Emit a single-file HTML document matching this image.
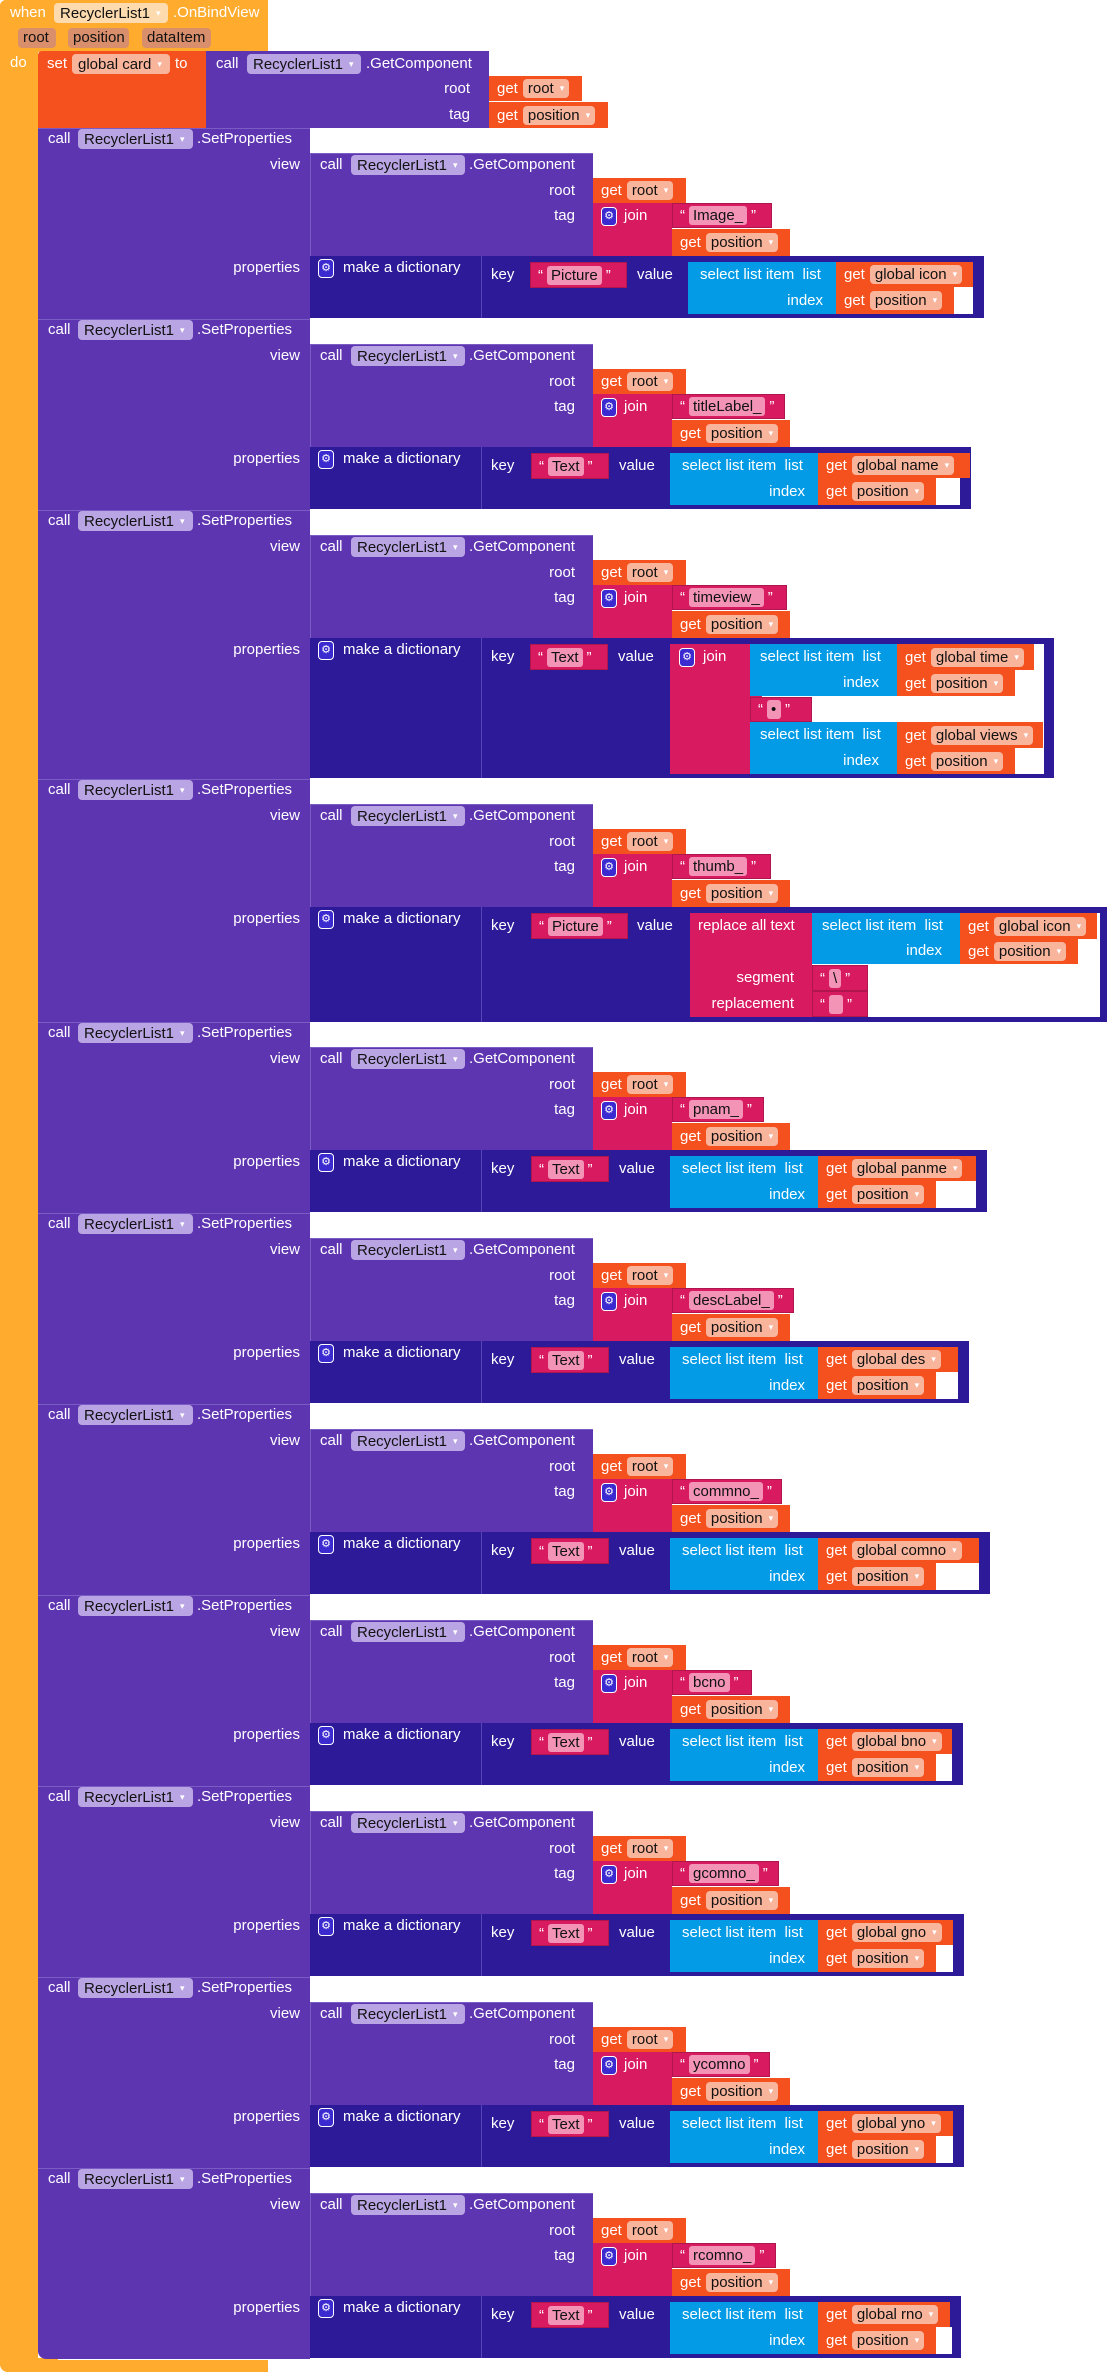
<!DOCTYPE html>
<html><head><meta charset="utf-8">
<style>
*{margin:0;padding:0;box-sizing:border-box}
body{width:1109px;height:2372px;background:#fff;position:relative;overflow:hidden;font-family:"Liberation Sans",Arial,sans-serif;font-size:15px}
.b{position:absolute}
.s{position:absolute;left:0;width:1109px;height:10px}
.l{position:absolute;color:#fff;font-size:15px;line-height:18px;white-space:nowrap}
.r{text-align:right}
.dd{position:absolute;height:20px;line-height:20px;background:#B9A5E3;color:#111;border-radius:4px;padding-left:6px;white-space:nowrap}
.dd b,.g b{font-size:9px;color:#fff;font-weight:normal;margin-left:6px;vertical-align:2px}
.g{position:absolute;background:#F4511E;height:25px;display:flex;align-items:center;padding-left:8px;gap:5px;color:#fff;white-space:nowrap}
.g i{font-style:normal;background:#F9B49C;color:#111;padding:0 5px;height:19px;line-height:19px;border-radius:4px}
.tx{position:absolute;background:#D81B60;height:25px;display:flex;align-items:center;padding-left:7px;gap:4px;color:#fff;white-space:nowrap;border:1px solid #B0154E}
.tx i{font-style:normal;background:#F393B6;color:#111;padding:0 4px;height:19px;line-height:19px;border-radius:3px;min-width:14px}
.gear{position:absolute;width:16px;height:19px;border:1.5px solid #fff;border-radius:4px;background:#3B2AD0;color:#fff;font-size:11px;line-height:16px;text-align:center}
.p{background:#5E35B1}
.d{background:#2C1A98}
.bl{background:#039BE5}
.pk{background:#D81B60}
.w{background:#fff}
</style></head><body>

<!-- event block -->
<div class="b" style="left:0;top:0;width:268px;height:52px;background:#FFAB2E;border-radius:6px 0 0 0"></div>
<div class="b" style="left:0;top:0;width:38px;height:2372px;background:#FFAB2E;border-radius:6px 0 0 8px"></div>
<div class="b" style="left:0;top:2360px;width:268px;height:12px;background:#FFAB2E;border-radius:0 0 0 8px"></div>
<div class="b" style="left:38px;top:2358px;width:20px;height:6px;background:#FFAB2E"></div>
<div class="l" style="left:10px;top:4px">when</div>
<div class="dd" style="left:54px;top:3px;width:114px;background:#FDDBAE">RecyclerList1<b>▾</b></div>
<div class="l" style="left:173px;top:4px">.OnBindView</div>
<div class="dd" style="left:18px;top:28px;width:38px;background:#D98F6C;padding-left:5px">root</div>
<div class="dd" style="left:68px;top:28px;width:61px;background:#D98F6C;padding-left:5px">position</div>
<div class="dd" style="left:142px;top:28px;width:69px;background:#D98F6C;padding-left:5px">dataItem</div>
<div class="l" style="left:10px;top:54px">do</div>

<!-- set global card -->
<div class="b" style="left:38px;top:51px;width:168px;height:77px;background:#F4511E;border-radius:4px 0 0 0"></div>
<div class="l" style="left:47px;top:55px">set</div>
<div class="dd" style="left:72px;top:54px;width:98px;background:#F9B49C">global card<b>▾</b></div>
<div class="l" style="left:175px;top:55px">to</div>
<div class="b p" style="left:206px;top:51px;width:283px;height:77px"></div>
<div class="l" style="left:216px;top:55px">call</div>
<div class="dd" style="left:247px;top:54px;width:114px">RecyclerList1<b>▾</b></div>
<div class="l" style="left:366px;top:55px">.GetComponent</div>
<div class="l r" style="left:270px;width:200px;top:80px">root</div>
<div class="g" style="left:489px;top:76px;width:93px">get<i>root<b>▾</b></i></div>
<div class="l r" style="left:270px;width:200px;top:106px">tag</div>
<div class="g" style="left:489px;top:102px;width:119px;height:26px">get<i>position<b>▾</b></i></div>

<!-- SECTION 1 -->
<div class="s" style="top:128px">
<div class="b p" style="left:38px;top:0;width:272px;height:191px;border-top:1px solid #7A5CC4"></div>
<div class="l" style="left:48px;top:2px">call</div><div class="dd" style="left:78px;top:1px;width:115px">RecyclerList1<b>▾</b></div><div class="l" style="left:197px;top:2px">.SetProperties</div>
<div class="l r" style="left:100px;width:200px;top:28px">view</div>
<div class="b p" style="left:310px;top:25px;width:283px;height:103px;border-left:1px solid #7A5CC4;border-top:1px solid #7A5CC4"></div>
<div class="l" style="left:320px;top:28px">call</div><div class="dd" style="left:351px;top:27px;width:114px">RecyclerList1<b>▾</b></div><div class="l" style="left:469px;top:28px">.GetComponent</div>
<div class="l r" style="left:375px;width:200px;top:54px">root</div><div class="g" style="left:593px;top:50px;width:93px">get<i>root<b>▾</b></i></div>
<div class="l r" style="left:375px;width:200px;top:79px">tag</div>
<div class="b pk" style="left:593px;top:75px;width:79px;height:53px"></div><div class="gear" style="left:601px;top:79px">⚙</div><div class="l" style="left:624px;top:79px">join</div>
<div class="tx" style="left:672px;top:75px;width:100px">“<i>Image_</i>”</div>
<div class="g" style="left:672px;top:101px;width:118px;height:27px">get<i>position<b>▾</b></i></div>
<div class="l r" style="left:100px;width:200px;top:131px">properties</div>
<div class="b d" style="left:310px;top:128px;width:674px;height:62px"></div><div class="b" style="left:481px;top:128px;width:1px;height:62px;background:#5546B5"></div>
<div class="gear" style="left:318px;top:131px">⚙</div><div class="l" style="left:343px;top:131px">make a dictionary</div>
<div class="l" style="left:491px;top:138px">key</div>
<div class="tx" style="left:530px;top:134px;width:97px;height:26px">“<i>Picture</i>”</div>
<div class="l" style="left:637px;top:138px">value</div>
<div class="b bl" style="left:688px;top:134px;width:148px;height:52px"></div><div class="l" style="left:700px;top:138px">select list item&nbsp; list</div><div class="l r" style="left:623px;width:200px;top:164px">index</div>
<div class="g" style="left:836px;top:134px;width:137px">get<i>global icon<b>▾</b></i></div>
<div class="b w" style="left:954px;top:159px;width:19px;height:27px"></div>
<div class="g" style="left:836px;top:159px;width:118px;height:27px">get<i>position<b>▾</b></i></div>
</div>

<!-- SECTION 2 -->
<div class="s" style="top:319px">
<div class="b p" style="left:38px;top:0;width:272px;height:191px;border-top:1px solid #7A5CC4"></div>
<div class="l" style="left:48px;top:2px">call</div><div class="dd" style="left:78px;top:1px;width:115px">RecyclerList1<b>▾</b></div><div class="l" style="left:197px;top:2px">.SetProperties</div>
<div class="l r" style="left:100px;width:200px;top:28px">view</div>
<div class="b p" style="left:310px;top:25px;width:283px;height:103px;border-left:1px solid #7A5CC4;border-top:1px solid #7A5CC4"></div>
<div class="l" style="left:320px;top:28px">call</div><div class="dd" style="left:351px;top:27px;width:114px">RecyclerList1<b>▾</b></div><div class="l" style="left:469px;top:28px">.GetComponent</div>
<div class="l r" style="left:375px;width:200px;top:54px">root</div><div class="g" style="left:593px;top:50px;width:93px">get<i>root<b>▾</b></i></div>
<div class="l r" style="left:375px;width:200px;top:79px">tag</div>
<div class="b pk" style="left:593px;top:75px;width:79px;height:53px"></div><div class="gear" style="left:601px;top:79px">⚙</div><div class="l" style="left:624px;top:79px">join</div>
<div class="tx" style="left:672px;top:75px;width:113px">“<i>titleLabel_</i>”</div>
<div class="g" style="left:672px;top:101px;width:118px;height:27px">get<i>position<b>▾</b></i></div>
<div class="l r" style="left:100px;width:200px;top:131px">properties</div>
<div class="b d" style="left:310px;top:128px;width:661px;height:62px"></div><div class="b" style="left:481px;top:128px;width:1px;height:62px;background:#5546B5"></div>
<div class="gear" style="left:318px;top:131px">⚙</div><div class="l" style="left:343px;top:131px">make a dictionary</div>
<div class="l" style="left:491px;top:138px">key</div>
<div class="tx" style="left:531px;top:134px;width:78px;height:26px">“<i>Text</i>”</div>
<div class="l" style="left:619px;top:138px">value</div>
<div class="b bl" style="left:670px;top:134px;width:148px;height:52px"></div><div class="l" style="left:682px;top:138px">select list item&nbsp; list</div><div class="l r" style="left:605px;width:200px;top:164px">index</div>
<div class="g" style="left:818px;top:134px;width:152px">get<i>global name<b>▾</b></i></div>
<div class="b w" style="left:936px;top:159px;width:24px;height:27px"></div>
<div class="g" style="left:818px;top:159px;width:118px;height:27px">get<i>position<b>▾</b></i></div>
</div>

<!-- SECTION 3 -->
<div class="s" style="top:510px">
<div class="b p" style="left:38px;top:0;width:272px;height:269px;border-top:1px solid #7A5CC4"></div>
<div class="l" style="left:48px;top:2px">call</div><div class="dd" style="left:78px;top:1px;width:115px">RecyclerList1<b>▾</b></div><div class="l" style="left:197px;top:2px">.SetProperties</div>
<div class="l r" style="left:100px;width:200px;top:28px">view</div>
<div class="b p" style="left:310px;top:25px;width:283px;height:103px;border-left:1px solid #7A5CC4;border-top:1px solid #7A5CC4"></div>
<div class="l" style="left:320px;top:28px">call</div><div class="dd" style="left:351px;top:27px;width:114px">RecyclerList1<b>▾</b></div><div class="l" style="left:469px;top:28px">.GetComponent</div>
<div class="l r" style="left:375px;width:200px;top:54px">root</div><div class="g" style="left:593px;top:50px;width:93px">get<i>root<b>▾</b></i></div>
<div class="l r" style="left:375px;width:200px;top:79px">tag</div>
<div class="b pk" style="left:593px;top:75px;width:79px;height:53px"></div><div class="gear" style="left:601px;top:79px">⚙</div><div class="l" style="left:624px;top:79px">join</div>
<div class="tx" style="left:672px;top:75px;width:115px">“<i>timeview_</i>”</div>
<div class="g" style="left:672px;top:101px;width:118px;height:27px">get<i>position<b>▾</b></i></div>
<div class="l r" style="left:100px;width:200px;top:131px">properties</div>
<div class="b d" style="left:310px;top:128px;width:744px;height:140px"></div><div class="b" style="left:481px;top:128px;width:1px;height:140px;background:#5546B5"></div>
<div class="gear" style="left:318px;top:131px">⚙</div><div class="l" style="left:343px;top:131px">make a dictionary</div>
<div class="l" style="left:491px;top:138px">key</div>
<div class="tx" style="left:530px;top:134px;width:78px;height:26px">“<i>Text</i>”</div>
<div class="l" style="left:618px;top:138px">value</div>
<div class="b w" style="left:750px;top:134px;width:294px;height:130px"></div>
<div class="b pk" style="left:670px;top:134px;width:80px;height:130px"></div><div class="gear" style="left:679px;top:138px">⚙</div><div class="l" style="left:703px;top:138px">join</div>
<div class="b pk" style="left:750px;top:186px;width:12px;height:26px"></div>
<div class="b bl" style="left:750px;top:134px;width:147px;height:52px"></div><div class="l" style="left:760px;top:138px">select list item&nbsp; list</div><div class="l r" style="left:679px;width:200px;top:164px">index</div>
<div class="g" style="left:897px;top:134px;width:137px;height:26px">get<i>global time<b>▾</b></i></div>
<div class="g" style="left:897px;top:160px;width:118px;height:26px">get<i>position<b>▾</b></i></div>
<div class="tx" style="left:750px;top:187px;width:62px;height:25px">“<i>•</i>”</div>
<div class="b bl" style="left:750px;top:212px;width:147px;height:52px"></div><div class="l" style="left:760px;top:216px">select list item&nbsp; list</div><div class="l r" style="left:679px;width:200px;top:242px">index</div>
<div class="g" style="left:897px;top:212px;width:146px;height:26px">get<i>global views<b>▾</b></i></div>
<div class="g" style="left:897px;top:238px;width:118px;height:26px">get<i>position<b>▾</b></i></div>
</div>

<!-- SECTION 4 -->
<div class="s" style="top:779px">
<div class="b p" style="left:38px;top:0;width:272px;height:243px;border-top:1px solid #7A5CC4"></div>
<div class="l" style="left:48px;top:2px">call</div><div class="dd" style="left:78px;top:1px;width:115px">RecyclerList1<b>▾</b></div><div class="l" style="left:197px;top:2px">.SetProperties</div>
<div class="l r" style="left:100px;width:200px;top:28px">view</div>
<div class="b p" style="left:310px;top:25px;width:283px;height:103px;border-left:1px solid #7A5CC4;border-top:1px solid #7A5CC4"></div>
<div class="l" style="left:320px;top:28px">call</div><div class="dd" style="left:351px;top:27px;width:114px">RecyclerList1<b>▾</b></div><div class="l" style="left:469px;top:28px">.GetComponent</div>
<div class="l r" style="left:375px;width:200px;top:54px">root</div><div class="g" style="left:593px;top:50px;width:93px">get<i>root<b>▾</b></i></div>
<div class="l r" style="left:375px;width:200px;top:79px">tag</div>
<div class="b pk" style="left:593px;top:75px;width:79px;height:53px"></div><div class="gear" style="left:601px;top:79px">⚙</div><div class="l" style="left:624px;top:79px">join</div>
<div class="tx" style="left:672px;top:75px;width:99px">“<i>thumb_</i>”</div>
<div class="g" style="left:672px;top:101px;width:118px;height:27px">get<i>position<b>▾</b></i></div>
<div class="l r" style="left:100px;width:200px;top:131px">properties</div>
<div class="b d" style="left:310px;top:128px;width:797px;height:115px"></div><div class="b" style="left:481px;top:128px;width:1px;height:115px;background:#5546B5"></div>
<div class="gear" style="left:318px;top:131px">⚙</div><div class="l" style="left:343px;top:131px">make a dictionary</div>
<div class="l" style="left:491px;top:138px">key</div>
<div class="tx" style="left:531px;top:134px;width:97px;height:26px">“<i>Picture</i>”</div>
<div class="l" style="left:637px;top:138px">value</div>
<div class="b w" style="left:812px;top:134px;width:288px;height:104px"></div>
<div class="b pk" style="left:690px;top:134px;width:122px;height:104px"></div>
<div class="l" style="left:698px;top:138px">replace all text</div>
<div class="l r" style="left:594px;width:200px;top:190px">segment</div>
<div class="l r" style="left:594px;width:200px;top:216px">replacement</div>
<div class="b bl" style="left:812px;top:134px;width:148px;height:51px"></div><div class="l" style="left:822px;top:138px">select list item&nbsp; list</div><div class="l r" style="left:742px;width:200px;top:163px">index</div>
<div class="g" style="left:960px;top:134px;width:137px;height:26px">get<i>global icon<b>▾</b></i></div>
<div class="g" style="left:960px;top:160px;width:118px;height:25px">get<i>position<b>▾</b></i></div>
<div class="tx" style="left:812px;top:186px;width:56px;height:26px">“<i style="min-width:10px">\</i>”</div>
<div class="tx" style="left:812px;top:212px;width:56px;height:26px">“<i></i>”</div>
</div>

<!-- STANDARD TEXT SECTIONS 5-11 -->
<div class="s" style="top:1022px">
<div class="b p" style="left:38px;top:0;width:272px;height:191px;border-top:1px solid #7A5CC4"></div>
<div class="l" style="left:48px;top:2px">call</div><div class="dd" style="left:78px;top:1px;width:115px">RecyclerList1<b>▾</b></div><div class="l" style="left:197px;top:2px">.SetProperties</div>
<div class="l r" style="left:100px;width:200px;top:28px">view</div>
<div class="b p" style="left:310px;top:25px;width:283px;height:103px;border-left:1px solid #7A5CC4;border-top:1px solid #7A5CC4"></div>
<div class="l" style="left:320px;top:28px">call</div><div class="dd" style="left:351px;top:27px;width:114px">RecyclerList1<b>▾</b></div><div class="l" style="left:469px;top:28px">.GetComponent</div>
<div class="l r" style="left:375px;width:200px;top:54px">root</div><div class="g" style="left:593px;top:50px;width:93px">get<i>root<b>▾</b></i></div>
<div class="l r" style="left:375px;width:200px;top:79px">tag</div>
<div class="b pk" style="left:593px;top:75px;width:79px;height:53px"></div><div class="gear" style="left:601px;top:79px">⚙</div><div class="l" style="left:624px;top:79px">join</div>
<div class="tx" style="left:672px;top:75px;width:92px">“<i>pnam_</i>”</div>
<div class="g" style="left:672px;top:101px;width:118px;height:27px">get<i>position<b>▾</b></i></div>
<div class="l r" style="left:100px;width:200px;top:131px">properties</div>
<div class="b d" style="left:310px;top:128px;width:677px;height:62px"></div><div class="b" style="left:481px;top:128px;width:1px;height:62px;background:#5546B5"></div>
<div class="gear" style="left:318px;top:131px">⚙</div><div class="l" style="left:343px;top:131px">make a dictionary</div>
<div class="l" style="left:491px;top:138px">key</div>
<div class="tx" style="left:531px;top:134px;width:78px;height:26px">“<i>Text</i>”</div>
<div class="l" style="left:619px;top:138px">value</div>
<div class="b bl" style="left:670px;top:134px;width:148px;height:52px"></div><div class="l" style="left:682px;top:138px">select list item&nbsp; list</div><div class="l r" style="left:605px;width:200px;top:164px">index</div>
<div class="g" style="left:818px;top:134px;width:158px">get<i>global panme<b>▾</b></i></div>
<div class="b w" style="left:936px;top:159px;width:40px;height:27px"></div>
<div class="g" style="left:818px;top:159px;width:118px;height:27px">get<i>position<b>▾</b></i></div>
</div>

<div class="s" style="top:1213px">
<div class="b p" style="left:38px;top:0;width:272px;height:191px;border-top:1px solid #7A5CC4"></div>
<div class="l" style="left:48px;top:2px">call</div><div class="dd" style="left:78px;top:1px;width:115px">RecyclerList1<b>▾</b></div><div class="l" style="left:197px;top:2px">.SetProperties</div>
<div class="l r" style="left:100px;width:200px;top:28px">view</div>
<div class="b p" style="left:310px;top:25px;width:283px;height:103px;border-left:1px solid #7A5CC4;border-top:1px solid #7A5CC4"></div>
<div class="l" style="left:320px;top:28px">call</div><div class="dd" style="left:351px;top:27px;width:114px">RecyclerList1<b>▾</b></div><div class="l" style="left:469px;top:28px">.GetComponent</div>
<div class="l r" style="left:375px;width:200px;top:54px">root</div><div class="g" style="left:593px;top:50px;width:93px">get<i>root<b>▾</b></i></div>
<div class="l r" style="left:375px;width:200px;top:79px">tag</div>
<div class="b pk" style="left:593px;top:75px;width:79px;height:53px"></div><div class="gear" style="left:601px;top:79px">⚙</div><div class="l" style="left:624px;top:79px">join</div>
<div class="tx" style="left:672px;top:75px;width:122px">“<i>descLabel_</i>”</div>
<div class="g" style="left:672px;top:101px;width:118px;height:27px">get<i>position<b>▾</b></i></div>
<div class="l r" style="left:100px;width:200px;top:131px">properties</div>
<div class="b d" style="left:310px;top:128px;width:659px;height:62px"></div><div class="b" style="left:481px;top:128px;width:1px;height:62px;background:#5546B5"></div>
<div class="gear" style="left:318px;top:131px">⚙</div><div class="l" style="left:343px;top:131px">make a dictionary</div>
<div class="l" style="left:491px;top:138px">key</div>
<div class="tx" style="left:531px;top:134px;width:78px;height:26px">“<i>Text</i>”</div>
<div class="l" style="left:619px;top:138px">value</div>
<div class="b bl" style="left:670px;top:134px;width:148px;height:52px"></div><div class="l" style="left:682px;top:138px">select list item&nbsp; list</div><div class="l r" style="left:605px;width:200px;top:164px">index</div>
<div class="g" style="left:818px;top:134px;width:140px">get<i>global des<b>▾</b></i></div>
<div class="b w" style="left:936px;top:159px;width:22px;height:27px"></div>
<div class="g" style="left:818px;top:159px;width:118px;height:27px">get<i>position<b>▾</b></i></div>
</div>

<div class="s" style="top:1404px">
<div class="b p" style="left:38px;top:0;width:272px;height:191px;border-top:1px solid #7A5CC4"></div>
<div class="l" style="left:48px;top:2px">call</div><div class="dd" style="left:78px;top:1px;width:115px">RecyclerList1<b>▾</b></div><div class="l" style="left:197px;top:2px">.SetProperties</div>
<div class="l r" style="left:100px;width:200px;top:28px">view</div>
<div class="b p" style="left:310px;top:25px;width:283px;height:103px;border-left:1px solid #7A5CC4;border-top:1px solid #7A5CC4"></div>
<div class="l" style="left:320px;top:28px">call</div><div class="dd" style="left:351px;top:27px;width:114px">RecyclerList1<b>▾</b></div><div class="l" style="left:469px;top:28px">.GetComponent</div>
<div class="l r" style="left:375px;width:200px;top:54px">root</div><div class="g" style="left:593px;top:50px;width:93px">get<i>root<b>▾</b></i></div>
<div class="l r" style="left:375px;width:200px;top:79px">tag</div>
<div class="b pk" style="left:593px;top:75px;width:79px;height:53px"></div><div class="gear" style="left:601px;top:79px">⚙</div><div class="l" style="left:624px;top:79px">join</div>
<div class="tx" style="left:672px;top:75px;width:110px">“<i>commno_</i>”</div>
<div class="g" style="left:672px;top:101px;width:118px;height:27px">get<i>position<b>▾</b></i></div>
<div class="l r" style="left:100px;width:200px;top:131px">properties</div>
<div class="b d" style="left:310px;top:128px;width:680px;height:62px"></div><div class="b" style="left:481px;top:128px;width:1px;height:62px;background:#5546B5"></div>
<div class="gear" style="left:318px;top:131px">⚙</div><div class="l" style="left:343px;top:131px">make a dictionary</div>
<div class="l" style="left:491px;top:138px">key</div>
<div class="tx" style="left:531px;top:134px;width:78px;height:26px">“<i>Text</i>”</div>
<div class="l" style="left:619px;top:138px">value</div>
<div class="b bl" style="left:670px;top:134px;width:148px;height:52px"></div><div class="l" style="left:682px;top:138px">select list item&nbsp; list</div><div class="l r" style="left:605px;width:200px;top:164px">index</div>
<div class="g" style="left:818px;top:134px;width:161px">get<i>global comno<b>▾</b></i></div>
<div class="b w" style="left:936px;top:159px;width:43px;height:27px"></div>
<div class="g" style="left:818px;top:159px;width:118px;height:27px">get<i>position<b>▾</b></i></div>
</div>

<div class="s" style="top:1595px">
<div class="b p" style="left:38px;top:0;width:272px;height:191px;border-top:1px solid #7A5CC4"></div>
<div class="l" style="left:48px;top:2px">call</div><div class="dd" style="left:78px;top:1px;width:115px">RecyclerList1<b>▾</b></div><div class="l" style="left:197px;top:2px">.SetProperties</div>
<div class="l r" style="left:100px;width:200px;top:28px">view</div>
<div class="b p" style="left:310px;top:25px;width:283px;height:103px;border-left:1px solid #7A5CC4;border-top:1px solid #7A5CC4"></div>
<div class="l" style="left:320px;top:28px">call</div><div class="dd" style="left:351px;top:27px;width:114px">RecyclerList1<b>▾</b></div><div class="l" style="left:469px;top:28px">.GetComponent</div>
<div class="l r" style="left:375px;width:200px;top:54px">root</div><div class="g" style="left:593px;top:50px;width:93px">get<i>root<b>▾</b></i></div>
<div class="l r" style="left:375px;width:200px;top:79px">tag</div>
<div class="b pk" style="left:593px;top:75px;width:79px;height:53px"></div><div class="gear" style="left:601px;top:79px">⚙</div><div class="l" style="left:624px;top:79px">join</div>
<div class="tx" style="left:672px;top:75px;width:80px">“<i>bcno</i>”</div>
<div class="g" style="left:672px;top:101px;width:118px;height:27px">get<i>position<b>▾</b></i></div>
<div class="l r" style="left:100px;width:200px;top:131px">properties</div>
<div class="b d" style="left:310px;top:128px;width:653px;height:62px"></div><div class="b" style="left:481px;top:128px;width:1px;height:62px;background:#5546B5"></div>
<div class="gear" style="left:318px;top:131px">⚙</div><div class="l" style="left:343px;top:131px">make a dictionary</div>
<div class="l" style="left:491px;top:138px">key</div>
<div class="tx" style="left:531px;top:134px;width:78px;height:26px">“<i>Text</i>”</div>
<div class="l" style="left:619px;top:138px">value</div>
<div class="b bl" style="left:670px;top:134px;width:148px;height:52px"></div><div class="l" style="left:682px;top:138px">select list item&nbsp; list</div><div class="l r" style="left:605px;width:200px;top:164px">index</div>
<div class="g" style="left:818px;top:134px;width:134px">get<i>global bno<b>▾</b></i></div>
<div class="b w" style="left:936px;top:159px;width:16px;height:27px"></div>
<div class="g" style="left:818px;top:159px;width:118px;height:27px">get<i>position<b>▾</b></i></div>
</div>

<div class="s" style="top:1786px">
<div class="b p" style="left:38px;top:0;width:272px;height:191px;border-top:1px solid #7A5CC4"></div>
<div class="l" style="left:48px;top:2px">call</div><div class="dd" style="left:78px;top:1px;width:115px">RecyclerList1<b>▾</b></div><div class="l" style="left:197px;top:2px">.SetProperties</div>
<div class="l r" style="left:100px;width:200px;top:28px">view</div>
<div class="b p" style="left:310px;top:25px;width:283px;height:103px;border-left:1px solid #7A5CC4;border-top:1px solid #7A5CC4"></div>
<div class="l" style="left:320px;top:28px">call</div><div class="dd" style="left:351px;top:27px;width:114px">RecyclerList1<b>▾</b></div><div class="l" style="left:469px;top:28px">.GetComponent</div>
<div class="l r" style="left:375px;width:200px;top:54px">root</div><div class="g" style="left:593px;top:50px;width:93px">get<i>root<b>▾</b></i></div>
<div class="l r" style="left:375px;width:200px;top:79px">tag</div>
<div class="b pk" style="left:593px;top:75px;width:79px;height:53px"></div><div class="gear" style="left:601px;top:79px">⚙</div><div class="l" style="left:624px;top:79px">join</div>
<div class="tx" style="left:672px;top:75px;width:107px">“<i>gcomno_</i>”</div>
<div class="g" style="left:672px;top:101px;width:118px;height:27px">get<i>position<b>▾</b></i></div>
<div class="l r" style="left:100px;width:200px;top:131px">properties</div>
<div class="b d" style="left:310px;top:128px;width:654px;height:62px"></div><div class="b" style="left:481px;top:128px;width:1px;height:62px;background:#5546B5"></div>
<div class="gear" style="left:318px;top:131px">⚙</div><div class="l" style="left:343px;top:131px">make a dictionary</div>
<div class="l" style="left:491px;top:138px">key</div>
<div class="tx" style="left:531px;top:134px;width:78px;height:26px">“<i>Text</i>”</div>
<div class="l" style="left:619px;top:138px">value</div>
<div class="b bl" style="left:670px;top:134px;width:148px;height:52px"></div><div class="l" style="left:682px;top:138px">select list item&nbsp; list</div><div class="l r" style="left:605px;width:200px;top:164px">index</div>
<div class="g" style="left:818px;top:134px;width:135px">get<i>global gno<b>▾</b></i></div>
<div class="b w" style="left:936px;top:159px;width:17px;height:27px"></div>
<div class="g" style="left:818px;top:159px;width:118px;height:27px">get<i>position<b>▾</b></i></div>
</div>

<div class="s" style="top:1977px">
<div class="b p" style="left:38px;top:0;width:272px;height:191px;border-top:1px solid #7A5CC4"></div>
<div class="l" style="left:48px;top:2px">call</div><div class="dd" style="left:78px;top:1px;width:115px">RecyclerList1<b>▾</b></div><div class="l" style="left:197px;top:2px">.SetProperties</div>
<div class="l r" style="left:100px;width:200px;top:28px">view</div>
<div class="b p" style="left:310px;top:25px;width:283px;height:103px;border-left:1px solid #7A5CC4;border-top:1px solid #7A5CC4"></div>
<div class="l" style="left:320px;top:28px">call</div><div class="dd" style="left:351px;top:27px;width:114px">RecyclerList1<b>▾</b></div><div class="l" style="left:469px;top:28px">.GetComponent</div>
<div class="l r" style="left:375px;width:200px;top:54px">root</div><div class="g" style="left:593px;top:50px;width:93px">get<i>root<b>▾</b></i></div>
<div class="l r" style="left:375px;width:200px;top:79px">tag</div>
<div class="b pk" style="left:593px;top:75px;width:79px;height:53px"></div><div class="gear" style="left:601px;top:79px">⚙</div><div class="l" style="left:624px;top:79px">join</div>
<div class="tx" style="left:672px;top:75px;width:98px">“<i>ycomno</i>”</div>
<div class="g" style="left:672px;top:101px;width:118px;height:27px">get<i>position<b>▾</b></i></div>
<div class="l r" style="left:100px;width:200px;top:131px">properties</div>
<div class="b d" style="left:310px;top:128px;width:654px;height:62px"></div><div class="b" style="left:481px;top:128px;width:1px;height:62px;background:#5546B5"></div>
<div class="gear" style="left:318px;top:131px">⚙</div><div class="l" style="left:343px;top:131px">make a dictionary</div>
<div class="l" style="left:491px;top:138px">key</div>
<div class="tx" style="left:531px;top:134px;width:78px;height:26px">“<i>Text</i>”</div>
<div class="l" style="left:619px;top:138px">value</div>
<div class="b bl" style="left:670px;top:134px;width:148px;height:52px"></div><div class="l" style="left:682px;top:138px">select list item&nbsp; list</div><div class="l r" style="left:605px;width:200px;top:164px">index</div>
<div class="g" style="left:818px;top:134px;width:135px">get<i>global yno<b>▾</b></i></div>
<div class="b w" style="left:936px;top:159px;width:17px;height:27px"></div>
<div class="g" style="left:818px;top:159px;width:118px;height:27px">get<i>position<b>▾</b></i></div>
</div>

<div class="s" style="top:2168px">
<div class="b p" style="left:38px;top:0;width:272px;height:191px;border-top:1px solid #7A5CC4;border-radius:0 0 0 8px"></div>
<div class="l" style="left:48px;top:2px">call</div><div class="dd" style="left:78px;top:1px;width:115px">RecyclerList1<b>▾</b></div><div class="l" style="left:197px;top:2px">.SetProperties</div>
<div class="l r" style="left:100px;width:200px;top:28px">view</div>
<div class="b p" style="left:310px;top:25px;width:283px;height:103px;border-left:1px solid #7A5CC4;border-top:1px solid #7A5CC4"></div>
<div class="l" style="left:320px;top:28px">call</div><div class="dd" style="left:351px;top:27px;width:114px">RecyclerList1<b>▾</b></div><div class="l" style="left:469px;top:28px">.GetComponent</div>
<div class="l r" style="left:375px;width:200px;top:54px">root</div><div class="g" style="left:593px;top:50px;width:93px">get<i>root<b>▾</b></i></div>
<div class="l r" style="left:375px;width:200px;top:79px">tag</div>
<div class="b pk" style="left:593px;top:75px;width:79px;height:53px"></div><div class="gear" style="left:601px;top:79px">⚙</div><div class="l" style="left:624px;top:79px">join</div>
<div class="tx" style="left:672px;top:75px;width:104px">“<i>rcomno_</i>”</div>
<div class="g" style="left:672px;top:101px;width:118px;height:27px">get<i>position<b>▾</b></i></div>
<div class="l r" style="left:100px;width:200px;top:131px">properties</div>
<div class="b d" style="left:310px;top:128px;width:651px;height:62px"></div><div class="b" style="left:481px;top:128px;width:1px;height:62px;background:#5546B5"></div>
<div class="gear" style="left:318px;top:131px">⚙</div><div class="l" style="left:343px;top:131px">make a dictionary</div>
<div class="l" style="left:491px;top:138px">key</div>
<div class="tx" style="left:531px;top:134px;width:78px;height:26px">“<i>Text</i>”</div>
<div class="l" style="left:619px;top:138px">value</div>
<div class="b bl" style="left:670px;top:134px;width:148px;height:52px"></div><div class="l" style="left:682px;top:138px">select list item&nbsp; list</div><div class="l r" style="left:605px;width:200px;top:164px">index</div>
<div class="g" style="left:818px;top:134px;width:132px">get<i>global rno<b>▾</b></i></div>
<div class="b w" style="left:936px;top:159px;width:16px;height:27px"></div>
<div class="g" style="left:818px;top:159px;width:118px;height:27px">get<i>position<b>▾</b></i></div>
</div>

</body></html>
